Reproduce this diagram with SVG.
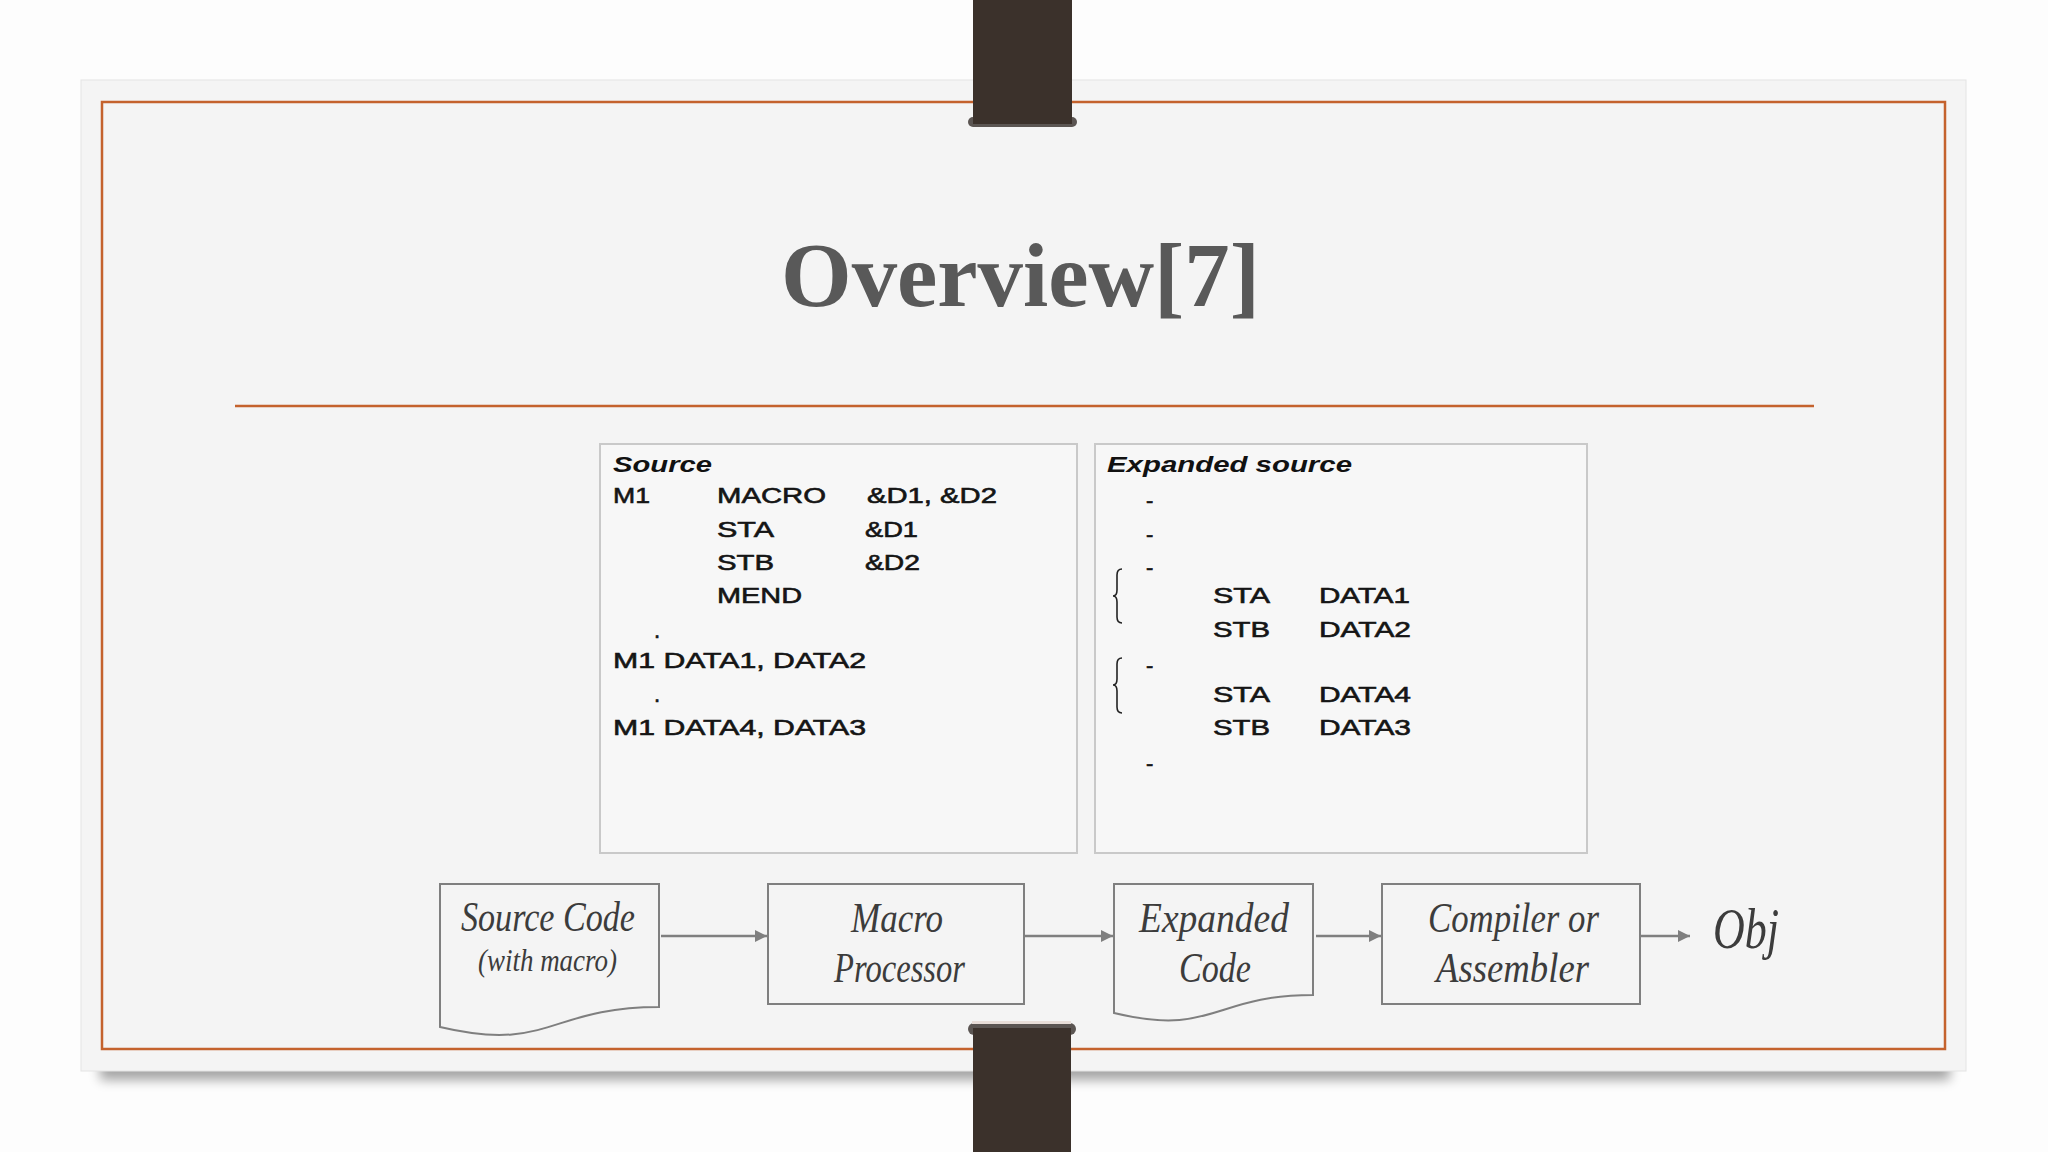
<svg xmlns="http://www.w3.org/2000/svg" width="2048" height="1152" viewBox="0 0 2048 1152">
<defs>
<style>
.code{font-family:"Liberation Sans",Arial,sans-serif;font-size:22px;fill:#151515;stroke:#151515;stroke-width:0.6}
.codeh{font-family:"Liberation Sans",Arial,sans-serif;font-size:22px;font-weight:bold;font-style:italic;fill:#111}
.flow{font-family:"Liberation Serif","Times New Roman",serif;font-style:italic;fill:#3c3c3c}
.box{fill:none;stroke:#7f7f7f;stroke-width:2}
.cbox{fill:#f7f7f7;stroke:#c9c9c9;stroke-width:2}
.arrow{stroke:#7f7f7f;stroke-width:2.5;fill:none;marker-end:url(#ah)}
.frame{stroke:#c4622d;fill:none;stroke-width:2.5}
.post{fill:#3b312b}
.cap{fill:#5b5552}
.brace{fill:none;stroke:#222;stroke-width:1.6}
</style>
<marker id="ah" viewBox="0 0 10 10" refX="10" refY="5" markerWidth="13" markerHeight="12" markerUnits="userSpaceOnUse" orient="auto">
<path d="M0,0 L10,5 L0,10 Z" fill="#7f7f7f"/>
</marker>
<filter id="blur" x="-10%" y="-100%" width="120%" height="300%">
<feGaussianBlur stdDeviation="6"/>
</filter>
</defs>
<rect x="0" y="0" width="2048" height="1152" fill="#fdfdfd"/>

<g id="board">
<rect x="100" y="1060" width="1850" height="20" fill="#000" opacity="0.35" filter="url(#blur)"/>
<rect x="81" y="80" width="1885" height="991" fill="#f4f4f4" stroke="#e4e4e4" stroke-width="1"/>
<rect class="frame" x="102" y="102" width="1843" height="947"/>
</g>

<g id="posts">
<rect class="cap" x="968" y="117" width="109" height="10" rx="5"/>
<rect class="post" x="973" y="0" width="99" height="124"/>
<rect class="cap" x="968" y="1023" width="108" height="12" rx="6"/>
<rect x="972" y="1021" width="99" height="3" fill="#e8ddd8"/>
<rect class="post" x="973" y="1028" width="98" height="124"/>
</g>

<g id="title">
<text x="781" y="306" font-family="'Liberation Serif','Times New Roman',serif" font-weight="bold" font-size="92" fill="#595959" textLength="479" lengthAdjust="spacingAndGlyphs">Overview[7]</text>
<line x1="235" y1="406" x2="1814" y2="406" stroke="#c4622d" stroke-width="2.5"/>
</g>

<g id="source-box">
<rect class="cbox" x="600" y="444" width="477" height="409"/>
<text class="codeh" x="613" y="472" textLength="99" lengthAdjust="spacingAndGlyphs">Source</text>
<text class="code" x="613" y="503" textLength="37" lengthAdjust="spacingAndGlyphs">M1</text>
<text class="code" x="717" y="503" textLength="109" lengthAdjust="spacingAndGlyphs">MACRO</text>
<text class="code" x="867" y="503" textLength="130" lengthAdjust="spacingAndGlyphs">&amp;D1, &amp;D2</text>
<text class="code" x="717" y="537" textLength="57" lengthAdjust="spacingAndGlyphs">STA</text>
<text class="code" x="865" y="537" textLength="53" lengthAdjust="spacingAndGlyphs">&amp;D1</text>
<text class="code" x="717" y="570" textLength="57" lengthAdjust="spacingAndGlyphs">STB</text>
<text class="code" x="865" y="570" textLength="55" lengthAdjust="spacingAndGlyphs">&amp;D2</text>
<text class="code" x="717" y="603" textLength="85" lengthAdjust="spacingAndGlyphs">MEND</text>
<text class="code" x="654" y="638">.</text>
<text class="code" x="613" y="668" textLength="253" lengthAdjust="spacingAndGlyphs">M1 DATA1, DATA2</text>
<text class="code" x="654" y="702">.</text>
<text class="code" x="613" y="735" textLength="253" lengthAdjust="spacingAndGlyphs">M1 DATA4, DATA3</text>
</g>

<g id="expanded-box">
<rect class="cbox" x="1095" y="444" width="492" height="409"/>
<text class="codeh" x="1107" y="472" textLength="245" lengthAdjust="spacingAndGlyphs">Expanded source</text>
<text class="code" x="1146" y="508">-</text>
<text class="code" x="1146" y="542">-</text>
<text class="code" x="1146" y="575">-</text>
<text class="code" x="1213" y="603" textLength="57" lengthAdjust="spacingAndGlyphs">STA</text>
<text class="code" x="1319" y="603" textLength="91" lengthAdjust="spacingAndGlyphs">DATA1</text>
<text class="code" x="1213" y="637" textLength="57" lengthAdjust="spacingAndGlyphs">STB</text>
<text class="code" x="1319" y="637" textLength="92" lengthAdjust="spacingAndGlyphs">DATA2</text>
<text class="code" x="1146" y="673">-</text>
<text class="code" x="1213" y="702" textLength="57" lengthAdjust="spacingAndGlyphs">STA</text>
<text class="code" x="1319" y="702" textLength="92" lengthAdjust="spacingAndGlyphs">DATA4</text>
<text class="code" x="1213" y="735" textLength="57" lengthAdjust="spacingAndGlyphs">STB</text>
<text class="code" x="1319" y="735" textLength="92" lengthAdjust="spacingAndGlyphs">DATA3</text>
<text class="code" x="1146" y="771">-</text>
<path class="brace" d="M1122,569 Q1117,569 1117,575 L1117,590 Q1117,596 1113,596 Q1117,596 1117,602 L1117,617 Q1117,623 1122,623"/>
<path class="brace" d="M1122,658 Q1117,658 1117,664 L1117,679 Q1117,685 1113,685 Q1117,685 1117,691 L1117,707 Q1117,713 1122,713"/>
</g>

<g id="node-source-code">
<path class="box" d="M440,884 H659 V1007 C549.5,1007 549.5,1053 440,1027 Z"/>
<text class="flow" x="461" y="931" font-size="42" textLength="174" lengthAdjust="spacingAndGlyphs">Source Code</text>
<text class="flow" x="478" y="971" font-size="31" textLength="139" lengthAdjust="spacingAndGlyphs">(with macro)</text>
</g>

<g id="node-macro-processor">
<rect class="box" x="768" y="884" width="256" height="120"/>
<text class="flow" x="851" y="932" font-size="42" textLength="92" lengthAdjust="spacingAndGlyphs">Macro</text>
<text class="flow" x="834" y="982" font-size="42" textLength="131" lengthAdjust="spacingAndGlyphs">Processor</text>
</g>

<g id="node-expanded-code">
<path class="box" d="M1114,884 H1313 V995 C1213.5,995 1213.5,1037 1114,1013 Z"/>
<text class="flow" x="1139" y="932" font-size="42" textLength="150" lengthAdjust="spacingAndGlyphs">Expanded</text>
<text class="flow" x="1179" y="982" font-size="42" textLength="72" lengthAdjust="spacingAndGlyphs">Code</text>
</g>

<g id="node-compiler">
<rect class="box" x="1382" y="884" width="258" height="120"/>
<text class="flow" x="1428" y="932" font-size="42" textLength="171" lengthAdjust="spacingAndGlyphs">Compiler or</text>
<text class="flow" x="1436" y="982" font-size="42" textLength="153" lengthAdjust="spacingAndGlyphs">Assembler</text>
</g>

<g id="node-obj">
<text class="flow" x="1713" y="948" font-size="56" textLength="66" lengthAdjust="spacingAndGlyphs">Obj</text>
</g>

<g id="connectors">
<line class="arrow" x1="661" y1="936" x2="767" y2="936"/>
<line class="arrow" x1="1025" y1="936" x2="1113" y2="936"/>
<line class="arrow" x1="1316" y1="936" x2="1381" y2="936"/>
<line class="arrow" x1="1641" y1="936" x2="1690" y2="936"/>
</g>
</svg>
